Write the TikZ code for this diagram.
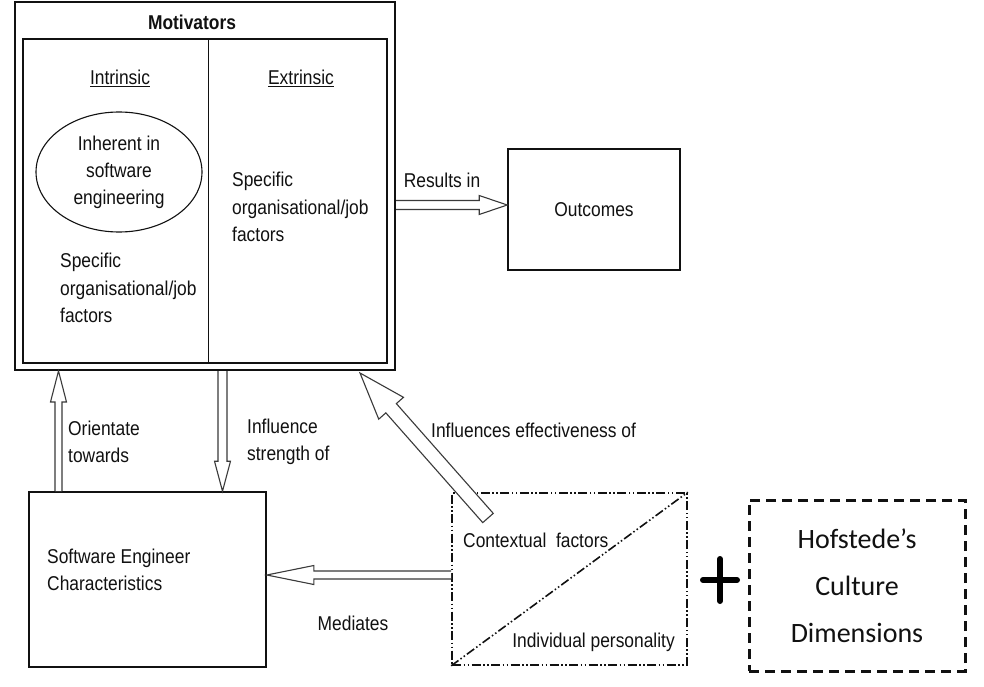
\documentclass[tikz,border=0pt]{standalone}
\usepackage{fontspec}
\setmainfont{Liberation Sans}[FakeStretch=0.87]
\newfontfamily\hoffont{Carlito}
\usetikzlibrary{calc,shapes.geometric}
\definecolor{ink}{HTML}{111111}
\definecolor{arrowc}{HTML}{3A3A3A}
\tikzset{
  box/.style={draw=ink, line width=1.6pt, rectangle, inner sep=0pt},
  txt/.style={inner sep=0pt, align=left, text=ink, font=\fontsize{20}{27.5}\selectfont},
  hof/.style={inner sep=0pt, align=center, text=ink, font=\hoffont\fontsize{28}{47}\selectfont},
  blockarrow/.style n args={4}{draw=arrowc, line width=1.1pt, fill=white, line join=miter,
    to path={
      ($(\tikztostart)!#1!90:(\tikztotarget)$)
      -- ($($(\tikztotarget)!#3!(\tikztostart)$)!#1!90:(\tikztotarget)$)
      -- ($($(\tikztotarget)!#3!(\tikztostart)$)!#2!90:(\tikztotarget)$)
      -- (\tikztotarget)
      -- ($($(\tikztotarget)!#3!(\tikztostart)$)!#2!-90:(\tikztotarget)$)
      -- ($($(\tikztotarget)!#3!(\tikztostart)$)!#1!-90:(\tikztotarget)$)
      -- ($(\tikztostart)!#1!-90:(\tikztotarget)$) #4
    }},
  dashdotdot/.style={draw=ink, line width=1.6pt,
    dash pattern=on 9pt off 2.5pt on 1.5pt off 2.5pt on 1.5pt off 2.5pt},
}
\begin{document}
\begin{tikzpicture}[x=1pt,y=-1pt]
\useasboundingbox[fill=white] (0,0) rectangle (984,687);

% Motivators
\node[box, line width=2pt, minimum width=380pt, minimum height=368pt] (mot) at (205,186) {};
\node[box, line width=1.8pt, minimum width=364pt, minimum height=324pt] (inner) at (205,201) {};
\coordinate (divt) at (208,39);
\coordinate (divb) at (208,363);
\draw[draw=ink, line width=1pt] (divt) -- (divb);
\node[txt, font=\bfseries\fontsize{20}{24}\selectfont] (title) at (192,22) {Motivators};
\node[txt] (intr) at (120,78) {\underline{Intrinsic}};
\node[txt] (extr) at (301,78) {\underline{Extrinsic}};
\node[ellipse, draw=ink, line width=1.1pt, minimum width=166pt, minimum height=120pt,
      inner sep=0pt, align=center, text=ink, font=\fontsize{20}{27}\selectfont] (ell) at (119,172)
      {Inherent in\\software\\engineering};
\node[txt, anchor=west] (specl) at (60,288) {Specific\\organisational/job\\factors};
\node[txt, anchor=west] (specr) at (232,207) {Specific\\organisational/job\\factors};

% Outcomes
\node[box, minimum width=172pt, minimum height=121pt, txt] (out) at (594,209.5) {Outcomes};
\node[txt] (resl) at (442,180) {Results in};

% Software Engineer Characteristics
\node[box, minimum width=237pt, minimum height=175pt] (se) at (147.5,579.5) {};
\node[txt, anchor=west] (setxt) at (47,570) {Software Engineer\\Characteristics};

% Contextual box
\node[dashdotdot, rectangle, inner sep=0pt, minimum width=235pt, minimum height=172pt] (ctx) at (569.5,579) {};
\draw[dashdotdot] (ctx.south west) -- (ctx.north east);
\node[txt, anchor=west] (ctxt) at (463,540) {Contextual\ \ factors};
\node[txt, anchor=east] (indiv) at (675,642) {Individual personality};

% Hofstede
\node[draw=ink, line width=3pt, dash pattern=on 10pt off 6pt, rectangle, inner sep=0pt,
      minimum width=216pt, minimum height=171pt, hof] (hofb) at (857,585.5)
      {Hofstede’s\\Culture\\Dimensions};
\coordinate (plc) at (720,580);
\draw[draw=black, line width=6pt, line cap=round] ($(plc)+(-17,0)$) -- ($(plc)+(17,0)$);
\draw[draw=black, line width=6pt, line cap=round] ($(plc)+(0,-21)$) -- ($(plc)+(0,21)$);

% connector end points
\coordinate (o1) at (se.north -| 58.5,0);
\coordinate (o2) at (mot.south -| 58.5,0);
\coordinate (i1) at (mot.south -| 222.5,0);
\coordinate (i2) at (se.north -| 222.5,0);
\coordinate (m1) at (ctx.west |- 0,575);
\coordinate (m2) at (se.east |- 0,575);
\coordinate (r1) at (mot.east |- 0,205);
\coordinate (r2) at (out.west |- 0,205);
\coordinate (d1) at (488,518);
\coordinate (d2) at (360,373);

% arrows
\path[blockarrow={3.5pt}{8pt}{31pt}{}] (o1) to (o2);
\path[blockarrow={4.5pt}{8pt}{30pt}{}] (i1) to (i2);
\path[blockarrow={4pt}{9.5pt}{47pt}{}] (m1) to (m2);
\path[blockarrow={4.5pt}{9.5pt}{28pt}{}] (r1) to (r2);
\path[blockarrow={7pt}{16.5pt}{47pt}{-- cycle}] (d1) to (d2);

% labels
\node[txt, anchor=west] (orl) at (68,442) {Orientate\\towards};
\node[txt, anchor=west] (infl) at (247,442) {Influence\\strength of};
\node[txt] (medl) at (353,623) {Mediates};
\node[txt, anchor=west] (effl) at (431,430) {Influences effectiveness of};
\end{tikzpicture}
\end{document}
